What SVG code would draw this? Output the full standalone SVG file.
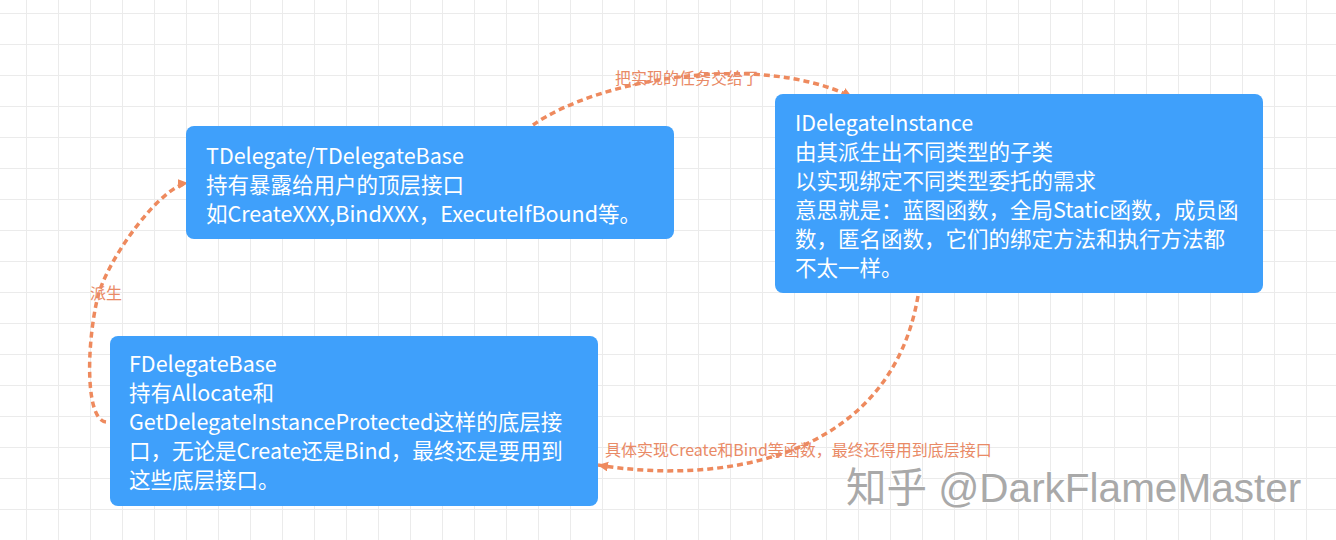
<svg xmlns="http://www.w3.org/2000/svg" width="1336" height="540" viewBox="0 0 1336 540">
  <defs>
    <pattern id="grid" x="-6" y="13" width="32" height="31" patternUnits="userSpaceOnUse">
      <path d="M0,0.5 H32 M0.5,0 V31" fill="none" stroke="#ebebeb" stroke-width="1"/>
    </pattern>
    <marker id="arrow" markerUnits="userSpaceOnUse" markerWidth="12" markerHeight="12" refX="10" refY="5" orient="auto">
      <path d="M0,0 L10,5 L0,10 z" fill="#ee8a5e"/>
    </marker>
    <style>
      .box { fill: #3fa0fb; }
      .nt { font-family: "Noto Sans CJK SC", "Noto Sans", sans-serif; font-size: 21.5px; fill: #ffffff; }
      .edge { fill: none; stroke: #ee8a5e; stroke-width: 3.5; stroke-dasharray: 6 4; marker-end: url(#arrow); }
      .el { font-family: "Noto Sans CJK SC", "Noto Sans", sans-serif; font-size: 16px; fill: #e98a66; }
      .wm { font-family: "Liberation Sans", "Noto Sans CJK SC", sans-serif; font-size: 40.5px; fill: #a9a9a9; stroke: #ffffff; stroke-width: 1.5; paint-order: stroke; }
    </style>
  </defs>
  <rect width="1336" height="540" fill="#ffffff"/>
  <rect width="1336" height="540" fill="url(#grid)"/>

  <g id="connectors">
    <path class="edge" d="M533,125 C600,78 760,52 852,97"/>
    <path class="edge" d="M918,296 C890,460 720,485 598,465"/>
    <path class="edge" d="M106,422 C86,420 86,350 97,300 C105,262 160,186 188,183"/>
    <text class="el" x="615" y="84">把实现的任务交给了</text>
    <text class="el" x="90" y="299">派生</text>
    <text class="el" x="605" y="456">具体实现Create和Bind等函数，最终还得用到底层接口</text>
  </g>

  <g id="node-tdelegate">
    <rect class="box" x="186" y="126" width="488" height="113" rx="8"/>
    <text class="nt" x="206" y="164">TDelegate/TDelegateBase</text>
    <text class="nt" x="206" y="193">持有暴露给用户的顶层接口</text>
    <text class="nt" x="206" y="222">如CreateXXX,BindXXX，ExecuteIfBound等。</text>
  </g>

  <g id="node-idelegateinstance">
    <rect class="box" x="775" y="94" width="488" height="199" rx="8"/>
    <text class="nt" x="795" y="131">IDelegateInstance</text>
    <text class="nt" x="795" y="160">由其派生出不同类型的子类</text>
    <text class="nt" x="795" y="189">以实现绑定不同类型委托的需求</text>
    <text class="nt" x="795" y="218">意思就是：蓝图函数，全局Static函数，成员函</text>
    <text class="nt" x="795" y="247">数，匿名函数，它们的绑定方法和执行方法都</text>
    <text class="nt" x="795" y="276">不太一样。</text>
  </g>

  <g id="node-fdelegatebase">
    <rect class="box" x="110" y="336" width="488" height="170" rx="8"/>
    <text class="nt" x="129" y="372">FDelegateBase</text>
    <text class="nt" x="129" y="401">持有Allocate和</text>
    <text class="nt" x="129" y="430">GetDelegateInstanceProtected这样的底层接</text>
    <text class="nt" x="129" y="459">口，无论是Create还是Bind，最终还是要用到</text>
    <text class="nt" x="129" y="488">这些底层接口。</text>
  </g>

  <g id="watermark">
    <text class="wm" x="846" y="502">知乎 @DarkFlameMaster</text>
  </g>
</svg>
